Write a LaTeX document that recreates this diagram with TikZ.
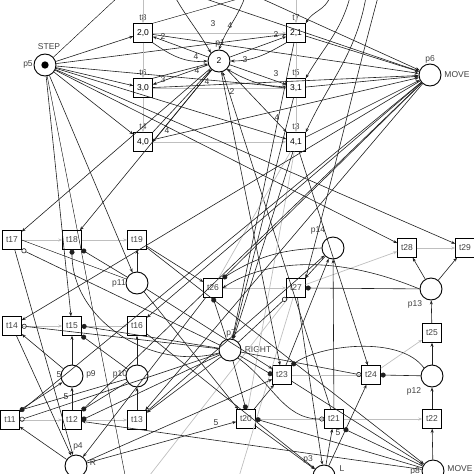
\documentclass[tikz,border=0pt]{standalone}
\usepackage{fontspec}
\setmainfont{Liberation Sans}
\usetikzlibrary{arrows.meta}

\tikzset{
  place/.style={circle, draw, line width=0.9pt, minimum size=22pt, inner sep=0pt},
  trans/.style={rectangle, draw, line width=0.9pt, minimum size=18.5pt, inner sep=0pt, text=black!75},
  arc/.style={draw=black!88, line width=0.6pt, -{Stealth[length=4pt,width=3pt]}},
  seq/.style={draw=black!25, line width=0.7pt, -{Stealth[length=4pt,width=3pt]}},
  inh/.style={draw=black!88, line width=0.6pt, -{Circle[length=5pt]}},
  tst/.style={draw=black!88, line width=0.6pt, -{Circle[open,length=5pt]}},
  lbl/.style={inner sep=0.5pt, text=black!75},
  wt/.style={inner sep=0.5pt, text=black!80}
}

\begin{document}
\begin{tikzpicture}[x=1pt, y=-1pt, font=\fontsize{8.5}{10}\selectfont]
\useasboundingbox (0,0) rectangle (474,474);

% upper net: step counter
\node[place] (p5) at (45,65) {};
\node[circle, fill, inner sep=2.6pt] (tok) at (p5) {};
\node[place] (p1) at (219,61) {2};
\node[place] (p6) at (430,75) {};
\node[lbl] (p5l) at (28,64) {p5};
\node[lbl] (p5n) at (49,47) {STEP};
\node[lbl] (p1l) at (220,43) {p1};
\node[lbl] (p6l) at (430,59) {p6};
\node[lbl] (p6n) at (457,75) {MOVE};
\foreach \n/\x/\y/\s in {t8/143/33/{2,0}, t6/143/88/{3,0}, t4/143/142/{4,0},
                         t7/296/33/{2,1}, t5/296/88/{3,1}, t3/296/142/{4,1}}
  \node[trans, text=black, label={[lbl, label distance=2pt]above:\n}] (\n) at (\x,\y) {\s};

% lower net
\foreach \n/\x/\y in {t17/12/240, t18/72/240, t19/137/240, t26/213/288, t27/296/288,
                      t28/407/248, t29/465/248, t14/12/326, t15/72/326, t16/137/326,
                      t25/432/333, t23/282/375, t24/371/375, t11/10/420, t12/72/420,
                      t13/137/420, t20/246/419, t21/334/419, t22/432/419}
  \node[trans] (\n) at (\x,\y) {\n};
\foreach \n/\x/\y in {p11/137/283, p14/333/248, p13/431/289, p7/230/350, p9/72/376,
                      p10/137/376, p12/432/376, p4/76/466, p3/324/476, p8/433/471}
  \node[place] (\n) at (\x,\y) {};
\node[lbl] (p11l) at (119,283) {p11};
\node[lbl] (p14l) at (318,230) {p14};
\node[lbl] (p13l) at (415,304) {p13};
\node[lbl] (p12l) at (414,391) {p12};
\node[lbl] (p9l) at (91,374) {p9};
\node[lbl] (p10l) at (120,374) {p10};
\node[lbl] (p7l) at (231,333) {p7};
\node[lbl] (p7n) at (258,350) {RIGHT};
\node[lbl] (p4l) at (78,446) {p4};
\node[lbl] (p4n) at (93,463) {R};
\node[lbl] (p3l) at (308,459) {p3};
\node[lbl] (p3n) at (342,469) {L};
\node[lbl] (p8l) at (415,471) {p8};
\node[lbl] (p8n) at (460,469) {MOVE};

% free ends leaving the picture
\coordinate (g1) at (143,-3);
\coordinate (g2) at (296,-3);
\coordinate (c1) at (175,-3);
\coordinate (c2) at (245,-3);
\coordinate (c3) at (330,-3);
\coordinate (c4) at (350,-3);
\coordinate (c5) at (366,-3);
\coordinate (c6) at (378,-3);
\coordinate (c8) at (258,-3);
\coordinate (c10) at (118,-3);
\coordinate (c11) at (200,-3);
\coordinate (cb1) at (126,480);
\coordinate (gb1) at (146,480);
\coordinate (gb2) at (238,480);

% STEP into every step transition, each one marks MOVE
\foreach \tr in {t8,t6,t4,t7,t5,t3} {
  \draw[arc] (p5) -- (\tr);
  \draw[arc] (\tr) -- (p6);
}
% grey order of the step transitions
\foreach \a/\b in {g1/t8, t8/t6, t6/t4, g2/t7, t7/t5, t5/t3, t8/t7, t6/t5, t4/t3}
  \draw[seq] (\a) -- (\b);

% counter p1 with weights
\draw[arc] (p1) -- (t8);
\draw[arc] (t8.south east) to[out=-35, in=185] (p1.west);
\draw[arc] (p1) -- (t6);
\draw[arc] (t6.north east) -- (p1);
\draw[arc] (t4.north east) -- (p1);
\draw[arc] (p1) -- (t4.east);
\draw[arc] (p1) -- (t7);
\draw[arc] (t7.south west) to[out=-150, in=0] (p1.east);
\draw[arc] (p1) -- (t5);
\draw[arc] (p1) -- (t3);
\draw[arc] (t5.west) to[out=175, in=-30] (p1.south east);
\draw[arc] (t21) -- (p1);
\draw[arc] (c1) to[out=-60, in=120] (p1.north west);
\draw[arc] (c2) to[out=-110, in=70] (p1.north);
\node[wt] (w1) at (163,37) {2};
\node[wt] (w2) at (196,57) {4};
\node[wt] (w3) at (213,24) {3};
\node[wt] (w4) at (230,26) {4};
\node[wt] (w5) at (245,60) {3};
\node[wt] (w6) at (276,35) {2};
\node[wt] (w7) at (163,80) {3};
\node[wt] (w8) at (197,71) {4};
\node[wt] (w9) at (207,82) {4};
\node[wt] (w10) at (167,131) {4};
\node[wt] (w11) at (232,92) {2};
\node[wt] (w12) at (276,74) {3};
\node[wt] (w13) at (277,118) {4};

% loops over the top edge
\draw[arc] (c3) to[out=-110, in=60] (t7.north east);
\draw[arc] (c4) to[out=-105, in=60] (t5.north east);
\draw[arc] (c5) to[out=-100, in=65] (t3.north east);
\draw[arc] (c6) to[out=-105, in=75] (t27.north east);
\draw[arc] (c8) -- (p6);
\draw[arc] (c11) -- (p6);
\draw (p5) -- (c10);
\draw (t8.north east) -- (c2);

% grey order of the leg transitions
\foreach \a/\b in {t17/t18, t18/t19, t14/t15, t15/t16, t11/t12, t12/t13, t26/t27,
                   t27/t28, t28/t29, t23/t24, t24/t25, t20/t21, t21/t22}
  \draw[seq] (\a) -- (\b);
\draw[draw=black!25, line width=0.7pt] (t3) -- (t20);
\draw[draw=black!25, line width=0.7pt] (t3) -- (t26);
\draw[draw=black!25, line width=0.7pt] (t27) -- (gb1);
\draw[draw=black!25, line width=0.7pt] (t27) -- (gb2);

% ordinary arcs
\foreach \a/\b in {p1/t17, p1/t18, p5/t28, p5/t29, p5/t15, p5/p11, t7/p7, t5/p7, t3/p7,
                   p6/t11, p6/t12, p6/t13, p6/t14, p6/t16, p6/t26, p11/t19, p9/t15,
                   p10/t16, p9/t14, t13/p10, p4/t11, t14/p4, t17/p4, t26/p4, t20/t23,
                   t20/p3, p3/t24, t21/p14, t23/p14, t13/p14, p14/t27, p13/t28,
                   p13/t29, t25/p13, p12/t25, t22/p12, p8/t22, t19/t26, p11/t20,
                   p11/t23, p8/t12, t19/p8, t23/p8, t27/p3, t3/t24, p1/t23, p7/t13,
                   t16/p3, p4/t23}
  \draw[arc] (\a) -- (\b);
\draw (p5) -- (cb1);
\draw (p11) -- (t17.east);

% weighted leg arcs
\draw[arc] (t11.north east) -- (p9);
\draw[arc] (t12) -- (p9);
\draw[arc] (p4) -- (t20);
\draw[arc] (p3) -- (t21);
\node[wt] (w14) at (59,375) {5};
\node[wt] (w15) at (66,397) {5};
\node[wt] (w16) at (216,423) {5};
\node[wt] (w17) at (338,433) {5};

% inhibitor arcs
\foreach \a/\b in {p11/t18.south east, p7/t15.east, p10/t15.south east, p10/t11.north east,
                   p10/t12.north east, p7/t12.east, p7/t20.north, p7/t23.west,
                   p12/t24.east, p13/t27.east, p8/t21.south east, p8/t20.east,
                   p7/t26.south}
  \draw[inh] (\a) -- (\b);
\draw[inh] (p7) to[out=195, in=-90] (t18.south);
\draw[inh] (p12.north west) .. controls (400,335) and (320,345) .. (t23.north east);
\draw[inh] (p14.west) to[bend right=15] (t26.north east);
\draw[arc] (p13.west) .. controls (330,252) and (262,262) .. (t26.east);

% test arcs
\foreach \a/\b in {p7/t17.south east, p7/t14.east, p7/t11.east, p7/t24.west,
                   p7/t27.south west}
  \draw[tst] (\a) -- (\b);
\draw[tst] (p7.south east) to[out=-35, in=180] (t21.west);

\end{tikzpicture}
\end{document}
